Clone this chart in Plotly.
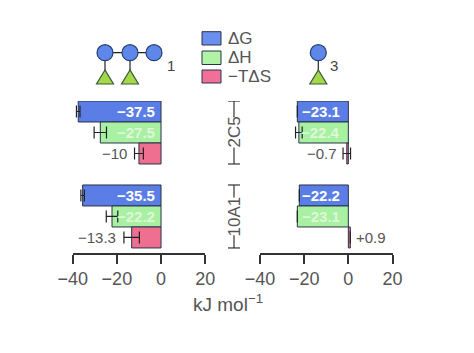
import plotly.graph_objects as go

W, H = 474, 353

# --- data ---
series = ["ΔG", "ΔH", "−TΔS"]
groups = ["2C5", "10A1"]
panel_left_values = {"ΔG": [-37.5, -35.5], "ΔH": [-27.5, -22.2], "−TΔS": [-10, -13.3]}
panel_left_errors = {"ΔG": [0.8, 0.8], "ΔH": [2.8, 2.6], "−TΔS": [2.0, 3.5]}
panel_right_values = {"ΔG": [-23.1, -22.2], "ΔH": [-22.4, -23.1], "−TΔS": [-0.7, 0.9]}
panel_right_errors = {"ΔG": [0, 0], "ΔH": [1.5, 0], "−TΔS": [1.7, 0]}
left_labels = {"ΔG": ["−37.5", "−35.5"], "ΔH": ["−27.5", "−22.2"], "−TΔS": ["−10", "−13.3"]}
right_labels = {"ΔG": ["−23.1", "−22.2"], "ΔH": ["−22.4", "−23.1"], "−TΔS": ["−0.7", "+0.9"]}
tick_values = [-40, -20, 0, 20]
x_title = "kJ mol<sup>−1</sup>"

# --- style ---
colors = {"ΔG": "#5a7de6", "ΔH": "#a8f0a2", "−TΔS": "#ee6f90"}
legend_colors = {"ΔG": "#6b8fee", "ΔH": "#b0f2a6", "−TΔS": "#f0709a"}
inner_text = {"ΔG": "#ffffff", "ΔH": "#dff7d8", "−TΔS": "#444444"}
EDGE = "#2a3348"
TXT = "#555555"
FONT = "Liberation Sans"
rows = {"ΔG": [0, 4], "ΔH": [1, 5], "−TΔS": [2, 6]}
group_rows = {"2C5": (-0.5, 2.5), "10A1": (3.5, 6.5)}


def px(x): return x / W
def py(y): return 1 - y / H


fig = go.Figure()
panels = [("x", "y", panel_left_values, panel_left_errors, left_labels, -4.5, -6),
          ("x2", "y2", panel_right_values, panel_right_errors, right_labels, -6, -4)]
ann = []
for xa, ya, vals, errs, labels, inner_shift, outer_shift in panels:
    for s in series:
        fig.add_trace(go.Bar(
            x=vals[s], y=rows[s], orientation="h", width=1, xaxis=xa, yaxis=ya,
            name=s, showlegend=False, marker=dict(color=colors[s], line=dict(color=EDGE, width=1)),
            error_x=dict(type="data", array=errs[s], visible=True, color="#222222", thickness=1.2, width=6),
        ))
        for v, e, r, t in zip(vals[s], errs[s], rows[s], labels[s]):
            if s == "−TΔS":
                if v > 0:
                    ann.append(dict(x=v + e, y=r, xref=xa, yref=ya, text=t, showarrow=False, xanchor="left",
                                    yanchor="middle", xshift=4, font=dict(size=15, color=TXT, family=FONT)))
                else:
                    ann.append(dict(x=v - e, y=r, xref=xa, yref=ya, text=t, showarrow=False, xanchor="right",
                                    yanchor="middle", xshift=outer_shift, font=dict(size=15, color=TXT, family=FONT)))
            else:
                ann.append(dict(x=0, y=r, xref=xa, yref=ya, text="<b>%s</b>" % t, showarrow=False, xanchor="right",
                                yanchor="middle", xshift=inner_shift, font=dict(size=15, color=inner_text[s], family=FONT)))

axis_common = dict(range=[-40, 20], tickvals=tick_values, showgrid=False, zeroline=False, showline=True,
                   automargin=False,
                   linecolor="#333333", linewidth=1.5, ticks="outside", ticklen=9, tickwidth=1.5, tickcolor="#333333",
                   tickfont=dict(size=18, color=TXT, family=FONT))
y_common = dict(range=[6.74, -0.5], visible=False, automargin=False, domain=[py(253), py(101)])
fig.update_layout(
    width=W, height=H, margin=dict(l=0, r=0, t=0, b=0, pad=0), paper_bgcolor="white", plot_bgcolor="white",
    barmode="overlay", showlegend=False,
    xaxis=dict(domain=[px(72.7), px(205.2)], anchor="y", **axis_common),
    xaxis2=dict(domain=[px(260), px(392.5)], anchor="y2", **axis_common),
    yaxis=dict(anchor="x", **y_common),
    yaxis2=dict(anchor="x2", **y_common),
)

shapes = []
# group brackets
for g in groups:
    lo, hi = group_rows[g]
    mid = (lo + hi) / 2
    line = dict(color="#333333", width=1.2)
    for r in (lo, hi):
        shapes.append(dict(type="line", xref="paper", yref="y", x0=px(228), x1=px(240), y0=r, y1=r, line=line))
    off = 0.72 if g == "2C5" else 0.9
    shapes.append(dict(type="line", xref="paper", yref="y", x0=px(234), x1=px(234), y0=lo, y1=mid - off, line=line))
    shapes.append(dict(type="line", xref="paper", yref="y", x0=px(234), x1=px(234), y0=mid + off, y1=hi, line=line))
    ann.append(dict(x=px(234), y=mid, xref="paper", yref="y", text=g, textangle=-90, showarrow=False,
                    xanchor="center", yanchor="middle", font=dict(size=17, color=TXT, family=FONT)))

# legend
legend_y = {"ΔG": (31.7, 45), "ΔH": (51, 64.5), "−TΔS": (70, 83)}
for s in series:
    y0, y1 = legend_y[s]
    shapes.append(dict(type="rect", xref="paper", yref="paper", x0=px(202), x1=px(221), y0=py(y0), y1=py(y1),
                       fillcolor=legend_colors[s], line=dict(color=EDGE, width=1)))
    ann.append(dict(x=px(226), y=py((y0 + y1) / 2), xref="paper", yref="paper", text=s, showarrow=False,
                    xanchor="left", yanchor="middle", font=dict(size=17, color=TXT, family=FONT)))

# glycan glyphs
CIRC = "#5f86ea"
TRI = "#a4d84a"
GEDGE = "#24406e"


def circle(cx, cy, r=8):
    return dict(type="circle", xref="paper", yref="paper", x0=px(cx - r), x1=px(cx + r), y0=py(cy - r), y1=py(cy + r),
                fillcolor=CIRC, line=dict(color=GEDGE, width=1.2))


def seg(x0, y0, x1, y1):
    return dict(type="line", xref="paper", yref="paper", x0=px(x0), x1=px(x1), y0=py(y0), y1=py(y1),
                line=dict(color="#222222", width=1.2))


def triangle(cx, top=70, base=84, hw=8.5):
    d = "M %f %f L %f %f L %f %f Z" % (px(cx), py(top), px(cx - hw), py(base), px(cx + hw), py(base))
    return dict(type="path", xref="paper", yref="paper", path=d, fillcolor=TRI, line=dict(color="#3a5a3a", width=1.2))


cy = 52.7
shapes += [seg(105, cy, 154, cy), seg(105, cy, 105, 72), seg(130, cy, 130, 72), seg(318.3, cy, 318.3, 72)]
for cx in (105, 130):
    shapes.append(triangle(cx))
shapes.append(triangle(318.3))
for cx in (105, 130, 154, 318.3):
    shapes.append(circle(cx, cy))

for t, x in (("1", 171), ("3", 334)):
    ann.append(dict(x=px(x), y=py(66), xref="paper", yref="paper", text=t, showarrow=False,
                    xanchor="center", yanchor="middle", font=dict(size=15, color="#444444", family=FONT)))

ann.append(dict(x=px(228), y=py(303), xref="paper", yref="paper", text=x_title, showarrow=False,
                xanchor="center", yanchor="middle", font=dict(size=19, color=TXT, family=FONT)))

fig.update_layout(shapes=shapes, annotations=ann)
fig.write_html("out.html", config={"displayModeBar": False}, post_script="document.body.style.margin='0';")
